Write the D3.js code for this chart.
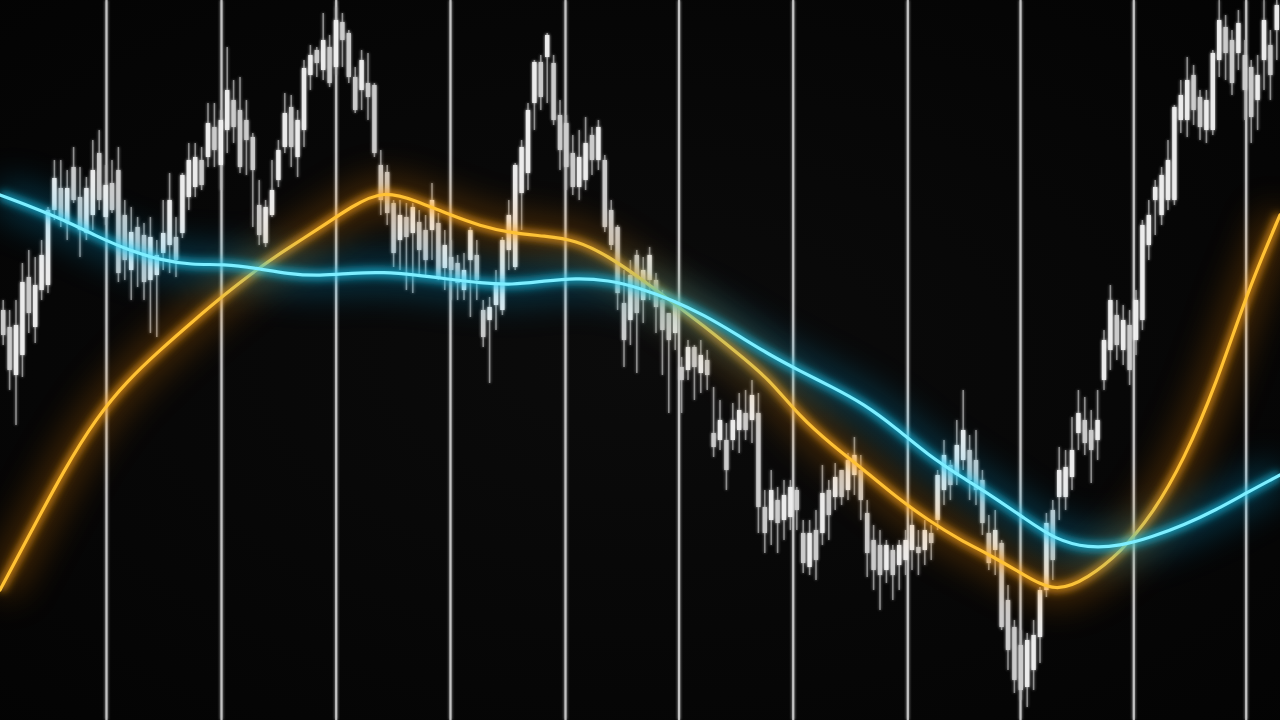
<!DOCTYPE html>
<html>
<head>
<meta charset="utf-8">
<script src="https://cdn.jsdelivr.net/npm/d3@7"></script>
<style>
  html, body { margin: 0; padding: 0; background: #050505; overflow: hidden; }
  svg { display: block; }
</style>
</head>
<body>
<svg id="chart" width="1280" height="720"></svg>
<script>
// ---- data (price units) ----
const opens = [
  410,393,345,365,443,393,430,435,510,532,
  497,553,523,487,505,567,503,537,550,505,
  450,493,485,440,445,467,475,483,487,523,
  533,560,563,593,555,590,620,610,600,583,
  515,477,505,540,573,613,563,590,645,670,
  650,673,653,698,687,643,630,637,635,555,
  548,517,480,503,487,498,490,490,497,452,
  463,457,430,460,465,410,400,415,410,470,
  453,527,547,617,658,663,657,605,597,567,
  533,540,585,560,560,510,493,417,400,465,
  420,440,440,420,407,387,353,350,373,347,
  360,287,280,280,280,290,307,300,307,213,
  200,220,200,203,230,187,153,190,187,230,
  223,250,230,245,250,207,180,175,150,170,
  155,160,170,173,170,187,200,230,255,245,
  260,270,260,240,187,170,177,120,93,75,
  33,50,83,130,210,223,223,243,287,300,
  290,280,340,370,405,370,395,380,400,475,
  520,505,520,520,600,600,645,623,590,590,
  660,693,680,667,665,653,620,660,675,690
];
const closes = [
  385,350,395,438,407,435,465,510,542,502,
  532,520,490,532,550,520,535,510,447,460,
  488,467,438,483,465,487,520,460,545,560,
  563,535,597,570,600,630,593,553,580,550,
  485,513,530,570,607,573,600,652,665,657,
  680,637,700,680,643,610,660,623,567,520,
  507,467,505,483,513,470,460,520,443,475,
  450,437,450,490,440,383,413,435,480,505,
  555,573,610,658,623,685,600,570,553,533,
  563,577,560,593,493,475,427,380,445,407,
  450,465,413,390,380,417,340,373,353,365,
  345,273,300,250,300,310,290,325,213,187,
  230,197,225,233,210,157,187,160,227,205,
  243,223,260,265,220,167,150,145,175,145,
  175,180,195,167,190,177,245,265,235,275,
  290,240,230,197,157,190,93,70,40,30,
  80,85,130,197,160,250,253,270,307,277,
  270,300,380,420,375,400,350,420,495,505,
  533,545,560,613,625,640,610,593,620,667,
  700,667,637,697,630,603,645,700,645,715
];
const highs = [
  420,410,420,457,470,463,480,513,560,560,
  550,573,553,543,580,590,555,560,573,520,
  513,503,497,503,480,520,547,503,547,577,
  577,573,617,617,610,673,640,643,620,587,
  540,520,560,580,627,625,610,660,675,673,
  707,685,713,707,690,653,670,667,637,570,
  555,520,520,517,517,510,505,537,507,490,
  480,465,467,493,480,420,423,450,483,520,
  557,580,617,660,665,687,665,620,605,585,
  590,603,593,600,565,520,495,450,460,470,
  463,473,447,430,407,420,363,380,375,380,
  370,333,320,297,317,327,330,340,327,230,
  250,233,240,240,233,200,200,210,255,240,
  257,250,267,283,265,220,195,190,180,175,
  180,190,210,190,200,195,250,280,260,300,
  330,285,290,250,205,210,180,135,100,90,
  87,100,133,207,220,273,270,303,330,323,
  310,330,390,435,420,415,410,430,500,520,
  540,553,580,615,640,663,655,630,630,670,
  720,705,690,710,680,660,665,720,690,720
];
const lows = [
  375,330,295,343,387,377,420,427,500,493,
  480,517,463,480,490,510,495,507,438,440,
  420,433,420,387,383,450,447,443,482,510,
  523,530,553,553,530,567,577,547,545,493,
  475,473,503,533,567,553,543,573,630,643,
  640,633,645,653,637,607,610,600,563,505,
  495,453,450,430,427,445,445,460,440,430,
  420,420,420,403,420,373,337,390,405,450,
  450,490,530,590,610,617,595,550,530,525,
  520,530,545,550,488,470,410,353,375,347,
  397,420,387,345,307,370,307,340,320,327,
  330,263,270,230,270,267,280,277,187,167,
  175,167,180,190,190,147,145,140,175,180,
  210,215,220,225,200,143,130,110,137,120,
  130,145,150,145,155,160,190,215,220,235,
  250,220,215,185,150,145,90,50,27,20,
  13,30,57,123,140,200,210,230,270,265,
  237,260,330,350,360,355,335,365,390,460,
  485,495,510,515,587,583,595,580,577,585,
  643,640,625,650,600,577,590,630,620,660
];

// moving averages, sampled every 5 bars
const maIndex = [0,5,10,15,20,25,30,35,40,45,50,55,60,65,70,75,80,85,90,95,100,
                 105,110,115,120,125,130,135,140,145,150,155,160,165,170,175,180,185,190,195,200];
const maSlow = [130,190,250,302,340,370,398,425,450,472,492,514,530,519,506,494,487,484,480,464,442,
                418,394,368,342,303,275,250,223,200,180,164,145,127,142,167,205,260,335,430,505];
const maFast = [525,513,500,484,470,460,455,456,452,446,444,447,448,445,441,437,435,439,442,440,432,
                420,405,386,366,349,333,316,292,265,244,224,202,180,172,174,183,195,210,228,245];

// vertical grid positions (bar index units)
const gridTicks = [16.56, 34.53, 52.45, 70.31, 88.28, 106.02, 123.86, 141.77, 159.38, 177.08, 194.64];

// ---- drawing ----
const W = 1280, H = 720;
const svg = d3.select("#chart");
const x = d3.scaleLinear().domain([0, 200]).range([0, W]);
const y = d3.scaleLinear().domain([0, 720]).range([H, 0]);

const defs = svg.append("defs");
function blurFilter(id, sd, merge) {
  const f = defs.append("filter").attr("id", id)
    .attr("filterUnits", "userSpaceOnUse")
    .attr("x", -100).attr("y", -100).attr("width", W + 200).attr("height", H + 200);
  f.append("feGaussianBlur").attr("in", "SourceGraphic").attr("stdDeviation", sd).attr("result", "b");
  if (merge) {
    const m = f.append("feMerge");
    m.append("feMergeNode").attr("in", "b");
    m.append("feMergeNode").attr("in", "SourceGraphic");
  }
}
blurFilter("bigGlow", 18, false);
blurFilter("midGlow", 4, false);
blurFilter("softGlow", 1.6, true);
blurFilter("gridGlow", 1.5, true);

const bg = defs.append("radialGradient").attr("id", "bgGrad").attr("cx", "50%").attr("cy", "50%").attr("r", "75%");
bg.append("stop").attr("offset", "0%").attr("stop-color", "#0b0b0b");
bg.append("stop").attr("offset", "100%").attr("stop-color", "#030303");
svg.append("rect").attr("width", W).attr("height", H).attr("fill", "url(#bgGrad)");

// grid via axis (outer group carries the glow, untransformed)
const gridWrap = svg.append("g").attr("filter", "url(#gridGlow)");
const grid = gridWrap.append("g").attr("class", "grid")
  .attr("transform", `translate(0,${H})`)
  .call(d3.axisBottom(x).tickValues(gridTicks).tickSize(-H).tickFormat(""));
grid.select(".domain").remove();
grid.selectAll(".tick line")
  .attr("stroke", "#d4d4d4").attr("stroke-width", 2.2).attr("stroke-opacity", 0.85);

// candles
const idx = d3.range(opens.length);
const bw = 4.4;
const cg = svg.append("g").attr("filter", "url(#softGlow)");
cg.selectAll("line.wick").data(idx).join("line")
  .attr("class", "wick")
  .attr("x1", i => x(i + 0.5)).attr("x2", i => x(i + 0.5))
  .attr("y1", i => y(highs[i])).attr("y2", i => y(lows[i]))
  .attr("stroke", "#b0b0b0").attr("stroke-width", 1.5).attr("stroke-opacity", 0.75);
cg.selectAll("rect.body").data(idx).join("rect")
  .attr("class", "body")
  .attr("x", i => x(i + 0.5) - bw / 2).attr("width", bw)
  .attr("y", i => y(Math.max(opens[i], closes[i])))
  .attr("height", i => Math.max(1.5, Math.abs(y(opens[i]) - y(closes[i]))))
  .attr("fill", i => closes[i] >= opens[i] ? "#f2f2f2" : "#cfcfcf")
  .attr("fill-opacity", 0.9);

// moving averages
const line = d3.line().x((d, k) => x(maIndex[k])).y(d => y(d)).curve(d3.curveBasis);
function glowLine(data, wide, mid, core) {
  const g = svg.append("g");
  g.append("path").datum(data).attr("d", line).attr("fill", "none")
    .attr("stroke", wide).attr("stroke-width", 30).attr("stroke-opacity", 0.3).attr("filter", "url(#bigGlow)");
  g.append("path").datum(data).attr("d", line).attr("fill", "none")
    .attr("stroke", mid).attr("stroke-width", 9).attr("stroke-opacity", 0.75).attr("filter", "url(#midGlow)");
  g.append("path").datum(data).attr("d", line).attr("fill", "none")
    .attr("stroke", core).attr("stroke-width", 3.2).attr("stroke-linecap", "round");
}
glowLine(maSlow, "#ff8c00", "#ffa41c", "#ffc234");
glowLine(maFast, "#00b8ff", "#1cc8f0", "#7eeeff");
</script>
</body>
</html>
